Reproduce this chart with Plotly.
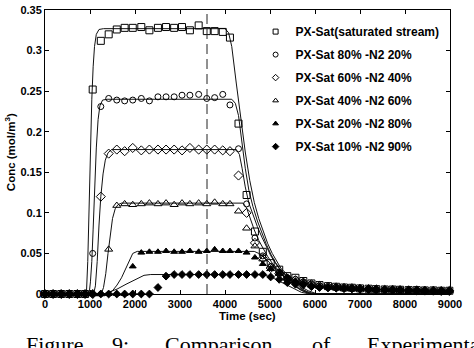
import plotly.graph_objects as go

# ---------------- data ----------------
names = ["PX-Sat(saturated stream)", "PX-Sat 80% -N2 20%", "PX-Sat 60% -N2 40%",
         "PX-Sat 40% -N2 60%", "PX-Sat 20% -N2 80%", "PX-Sat 10% -N2 90%"]

t_exp = [0, 180, 360, 540, 720, 890, 1060, 1240, 1415, 1595, 1770, 1950, 2140, 2320, 2510, 2690,
         2870, 3045, 3220, 3415, 3595, 3770, 3950, 4110, 4300, 4480, 4665, 4840, 5015, 5205, 5385,
         5565, 5740, 5920, 6100, 6290, 6470, 6645, 6820, 7000, 7190, 7360, 7550, 7725, 7890, 8080,
         8260, 8440, 8630, 8805, 8985]

sat_exp = [0, 0, 0, 0, 0, 0,
           0.252, 0.312, 0.320, 0.326, 0.328, 0.328, 0.329, 0.325, 0.328, 0.329, 0.328, 0.329,
           0.325, 0.331, 0.324, 0.324, 0.323, 0.316,
           0.210, 0.122, 0.077, 0.052, 0.038, 0.030, 0.022, 0.020, 0.016, 0.013, 0.011,
           0.0097, 0.0089, 0.0080, 0.0077, 0.0069, 0.0065, 0.0060, 0.0056, 0.0055, 0.0052,
           0.0048, 0.0048, 0.0044, 0.0044, 0.0040, 0.0040]
p80_exp = [0, 0, 0, 0, 0, 0,
           0.050, 0.231, 0.241, 0.239, 0.238, 0.239, 0.241, 0.238, 0.243, 0.243, 0.243, 0.245,
           0.245, 0.246, 0.241, 0.242, 0.246, 0.233,
           0.179, 0.111, 0.069, 0.047, 0.034, 0.027, 0.020, 0.018, 0.015, 0.012, 0.010,
           0.0090, 0.0084, 0.0077, 0.0073, 0.0066, 0.0062, 0.0058, 0.0054, 0.0053, 0.0050,
           0.0047, 0.0046, 0.0043, 0.0042, 0.0039, 0.0039]
p60_exp = [0, 0, 0, 0, 0, 0, 0,
           0.120, 0.173, 0.178, 0.176, 0.180, 0.177, 0.178, 0.178, 0.178, 0.178, 0.177,
           0.180, 0.178, 0.178, 0.178, 0.177, 0.176,
           0.146, 0.100, 0.063, 0.044, 0.032, 0.025, 0.019, 0.017, 0.014, 0.012, 0.010,
           0.0088, 0.0082, 0.0076, 0.0072, 0.0065, 0.0061, 0.0057, 0.0053, 0.0052, 0.0049,
           0.0046, 0.0045, 0.0042, 0.0041, 0.0038, 0.0038]
p40_exp = [0, 0, 0, 0, 0, 0, 0, 0,
           0.055, 0.109, 0.111, 0.110, 0.111, 0.112, 0.111, 0.112, 0.110, 0.112,
           0.111, 0.112, 0.111, 0.113, 0.111, 0.111,
           0.102, 0.081, 0.059, 0.043, 0.031, 0.025, 0.019, 0.016, 0.014, 0.011, 0.0095,
           0.0086, 0.0080, 0.0074, 0.0070, 0.0063, 0.0060, 0.0056, 0.0052, 0.0051, 0.0048,
           0.0045, 0.0044, 0.0041, 0.0040, 0.0037, 0.0037]
p20_exp = [0, 0, 0, 0, 0, 0, 0, 0, 0, 0, 0,
           0.034, 0.051, 0.052, 0.052, 0.053, 0.052, 0.052, 0.053, 0.052, 0.053, 0.055, 0.053, 0.053,
           0.053, 0.051, 0.045, 0.037, 0.031, 0.026, 0.021, 0.016, 0.014, 0.011, 0.009,
           0.0082, 0.0077, 0.0072, 0.0068, 0.0062, 0.0058, 0.0055, 0.0051, 0.0050, 0.0047,
           0.0044, 0.0043, 0.0040, 0.0039, 0.0036, 0.0036]
p10_exp = [0, 0, 0, 0, 0, 0, 0, 0, 0, 0, 0, 0, 0, 0,
           0.008, 0.022, 0.024, 0.024, 0.024, 0.024, 0.024, 0.024, 0.024, 0.024,
           0.024, 0.024, 0.024, 0.024, 0.021, 0.018, 0.014, 0.012, 0.011, 0.009, 0.008,
           0.0075, 0.0071, 0.0067, 0.0064, 0.0059, 0.0056, 0.0053, 0.0050, 0.0049, 0.0046,
           0.0043, 0.0042, 0.0039, 0.0038, 0.0035, 0.0035]

# model curves (time, conc)
sat_mt = [0, 920, 950, 980, 1010, 1040, 1070, 1100, 1140, 1200, 1300, 4000, 4080, 4150, 4250, 4350,
          4450, 4550, 4650, 4750, 4850, 4950, 5050, 5150, 5250, 5350, 5450, 5550, 5650, 5750, 5850,
          5950, 6050, 9000]
sat_mc = [0, 0, 0.04, 0.12, 0.19, 0.24, 0.28, 0.305, 0.32, 0.326, 0.327, 0.327, 0.322, 0.305, 0.26,
          0.215, 0.175, 0.14, 0.113, 0.093, 0.077, 0.062, 0.05, 0.04, 0.031, 0.026, 0.021, 0.016,
          0.011, 0.007, 0.004, 0.0015, 0, 0]
p80_mt = [0, 980, 1010, 1040, 1070, 1100, 1140, 1180, 1220, 1280, 1380, 4150, 4230, 4300, 4370, 4450,
          4530, 4620, 4720, 4820, 4920, 5020, 5120, 5220, 5320, 5420, 5520, 5620, 5720, 5820, 5920,
          6000, 9000]
p80_mc = [0, 0, 0.015, 0.04, 0.08, 0.13, 0.18, 0.215, 0.232, 0.239, 0.24, 0.24, 0.235, 0.22, 0.19,
          0.155, 0.128, 0.108, 0.09, 0.075, 0.061, 0.049, 0.039, 0.031, 0.025, 0.02, 0.015, 0.01,
          0.006, 0.003, 0.001, 0, 0]
p60_mt = [0, 1080, 1120, 1160, 1200, 1240, 1290, 1340, 1400, 1480, 4250, 4320, 4380, 4450, 4530,
          4620, 4720, 4820, 4920, 5020, 5120, 5220, 5320, 5420, 5520, 5620, 5720, 5820, 5920, 9000]
p60_mc = [0, 0, 0.01, 0.04, 0.085, 0.12, 0.148, 0.165, 0.174, 0.178, 0.178, 0.172, 0.155, 0.132,
          0.112, 0.097, 0.083, 0.07, 0.058, 0.047, 0.038, 0.03, 0.024, 0.018, 0.013, 0.008, 0.005,
          0.002, 0, 0]
p40_mt = [0, 1250, 1300, 1350, 1400, 1450, 1500, 1560, 1620, 1700, 4400, 4480, 4560, 4650, 4750,
          4850, 4950, 5050, 5150, 5250, 5350, 5450, 5550, 5650, 5750, 5850, 5900, 9000]
p40_mc = [0, 0, 0.008, 0.025, 0.05, 0.075, 0.093, 0.105, 0.11, 0.112, 0.112, 0.106, 0.093, 0.079,
          0.066, 0.055, 0.046, 0.038, 0.031, 0.025, 0.02, 0.015, 0.01, 0.006, 0.003, 0.001, 0, 0]
p20_mt = [0, 1400, 1500, 1600, 1700, 1750, 1800, 1850, 1900, 1950, 2050, 4650, 4750, 4850, 4950,
          5050, 5150, 5250, 5350, 5450, 5550, 5650, 5750, 5850, 5900, 9000]
p20_mc = [0, 0, 0.004, 0.011, 0.02, 0.026, 0.033, 0.04, 0.046, 0.05, 0.0525, 0.0525, 0.05, 0.046,
          0.041, 0.035, 0.029, 0.024, 0.019, 0.014, 0.01, 0.006, 0.003, 0.001, 0, 0]
p10_mt = [0, 1300, 1400, 1600, 1800, 2000, 2100, 2200, 2350, 4800, 4900, 5000, 5100, 5200, 5300,
          5400, 5500, 5600, 5700, 5800, 5850, 9000]
p10_mc = [0, 0, 0.002, 0.006, 0.012, 0.018, 0.021, 0.023, 0.024, 0.024, 0.023, 0.021, 0.019,
          0.016, 0.013, 0.01, 0.007, 0.004, 0.002, 0.001, 0, 0]

switch_time = 3600
x_ticks = [0, 1000, 2000, 3000, 4000, 5000, 6000, 7000, 8000, 9000]
y_ticks = [0, 0.05, 0.1, 0.15, 0.2, 0.25, 0.3, 0.35]

exp_series = [sat_exp, p80_exp, p60_exp, p40_exp, p20_exp, p10_exp]
model_series = [(sat_mt, sat_mc), (p80_mt, p80_mc), (p60_mt, p60_mc),
                (p40_mt, p40_mc), (p20_mt, p20_mc), (p10_mt, p10_mc)]
symbols = ["square-open", "circle-open", "diamond-open", "triangle-up-open", "triangle-up", "diamond"]
sizes = [7, 6, 7, 7, 6, 6]

fig = go.Figure()

for (mt, mc) in model_series:
    fig.add_trace(go.Scatter(x=mt, y=mc, mode="lines", showlegend=False,
                             line=dict(color="#111111", width=1), hoverinfo="skip"))

for ys, sym, sz in zip(exp_series, symbols, sizes):
    fig.add_trace(go.Scatter(x=t_exp, y=ys, mode="markers", showlegend=False, cliponaxis=False,
                             marker=dict(symbol=sym, size=sz, color="black",
                                         line=dict(color="black", width=1))))

for i, (nm, sym) in enumerate(zip(names, symbols)):
    fig.add_trace(go.Scatter(x=[None], y=[None], mode="markers", name=nm, legendgroup=str(i),
                             marker=dict(symbol=sym, size=5, color="black",
                                         line=dict(color="black", width=1))))

fig.add_shape(type="line", x0=switch_time, x1=switch_time, y0=0, y1=0.35, xref="x", yref="y",
              line=dict(color="#222222", width=1, dash="10px,5px"))

axis_font = dict(family="Liberation Sans, Arial", size=11, color="black", weight="bold")

fig.update_xaxes(range=[0, 9000], tickvals=x_ticks, ticks="inside", ticklen=4, mirror="ticks",
                 showline=True, linecolor="black", linewidth=1, showgrid=False, zeroline=False,
                 tickfont=axis_font, tickcolor="black", ticklabeloverflow="allow")
fig.update_yaxes(range=[0, 0.35], tickvals=y_ticks, ticks="inside", ticklen=4, mirror="ticks",
                 showline=True, linecolor="black", linewidth=1, showgrid=False, zeroline=False,
                 tickfont=axis_font, tickcolor="black", ticklabeloverflow="allow")

annotations = [
    dict(text="Time (sec)", x=0.5, y=-0.078, xref="paper", yref="paper", showarrow=False,
         xanchor="center", yanchor="middle", font=dict(family="Liberation Sans, Arial", size=11.5,
                                                        color="black", weight="bold")),
    dict(text="Conc (mol/m<sup>3</sup>)", x=-0.086, y=0.5, xref="paper", yref="paper",
         showarrow=False, textangle=-90, xanchor="center", yanchor="middle",
         font=dict(family="Liberation Sans, Arial", size=11.5, color="black", weight="bold")),
]
caption_words = [("Figure", 24), ("9:", 110), ("Comparison", 163), ("of", 310), ("Experimental", 365)]
for w, px in caption_words:
    annotations.append(dict(text=w, x=(px - 45) / 405, y=-0.178, xref="paper", yref="paper",
                            showarrow=False, xanchor="left", yanchor="middle",
                            font=dict(family="Liberation Serif, Times New Roman", size=22,
                                      color="black")))

fig.update_layout(
    width=474, height=348,
    margin=dict(l=45, r=24, t=4, b=54),
    paper_bgcolor="white", plot_bgcolor="white",
    showlegend=True,
    legend=dict(x=0.52, y=0.975, xanchor="left", yanchor="top", bgcolor="rgba(0,0,0,0)",
                traceorder="grouped", tracegroupgap=4,
                font=dict(family="Liberation Sans, Arial", size=12, color="black", weight="bold")),
    annotations=annotations,
)

fig.write_html("out.html")
